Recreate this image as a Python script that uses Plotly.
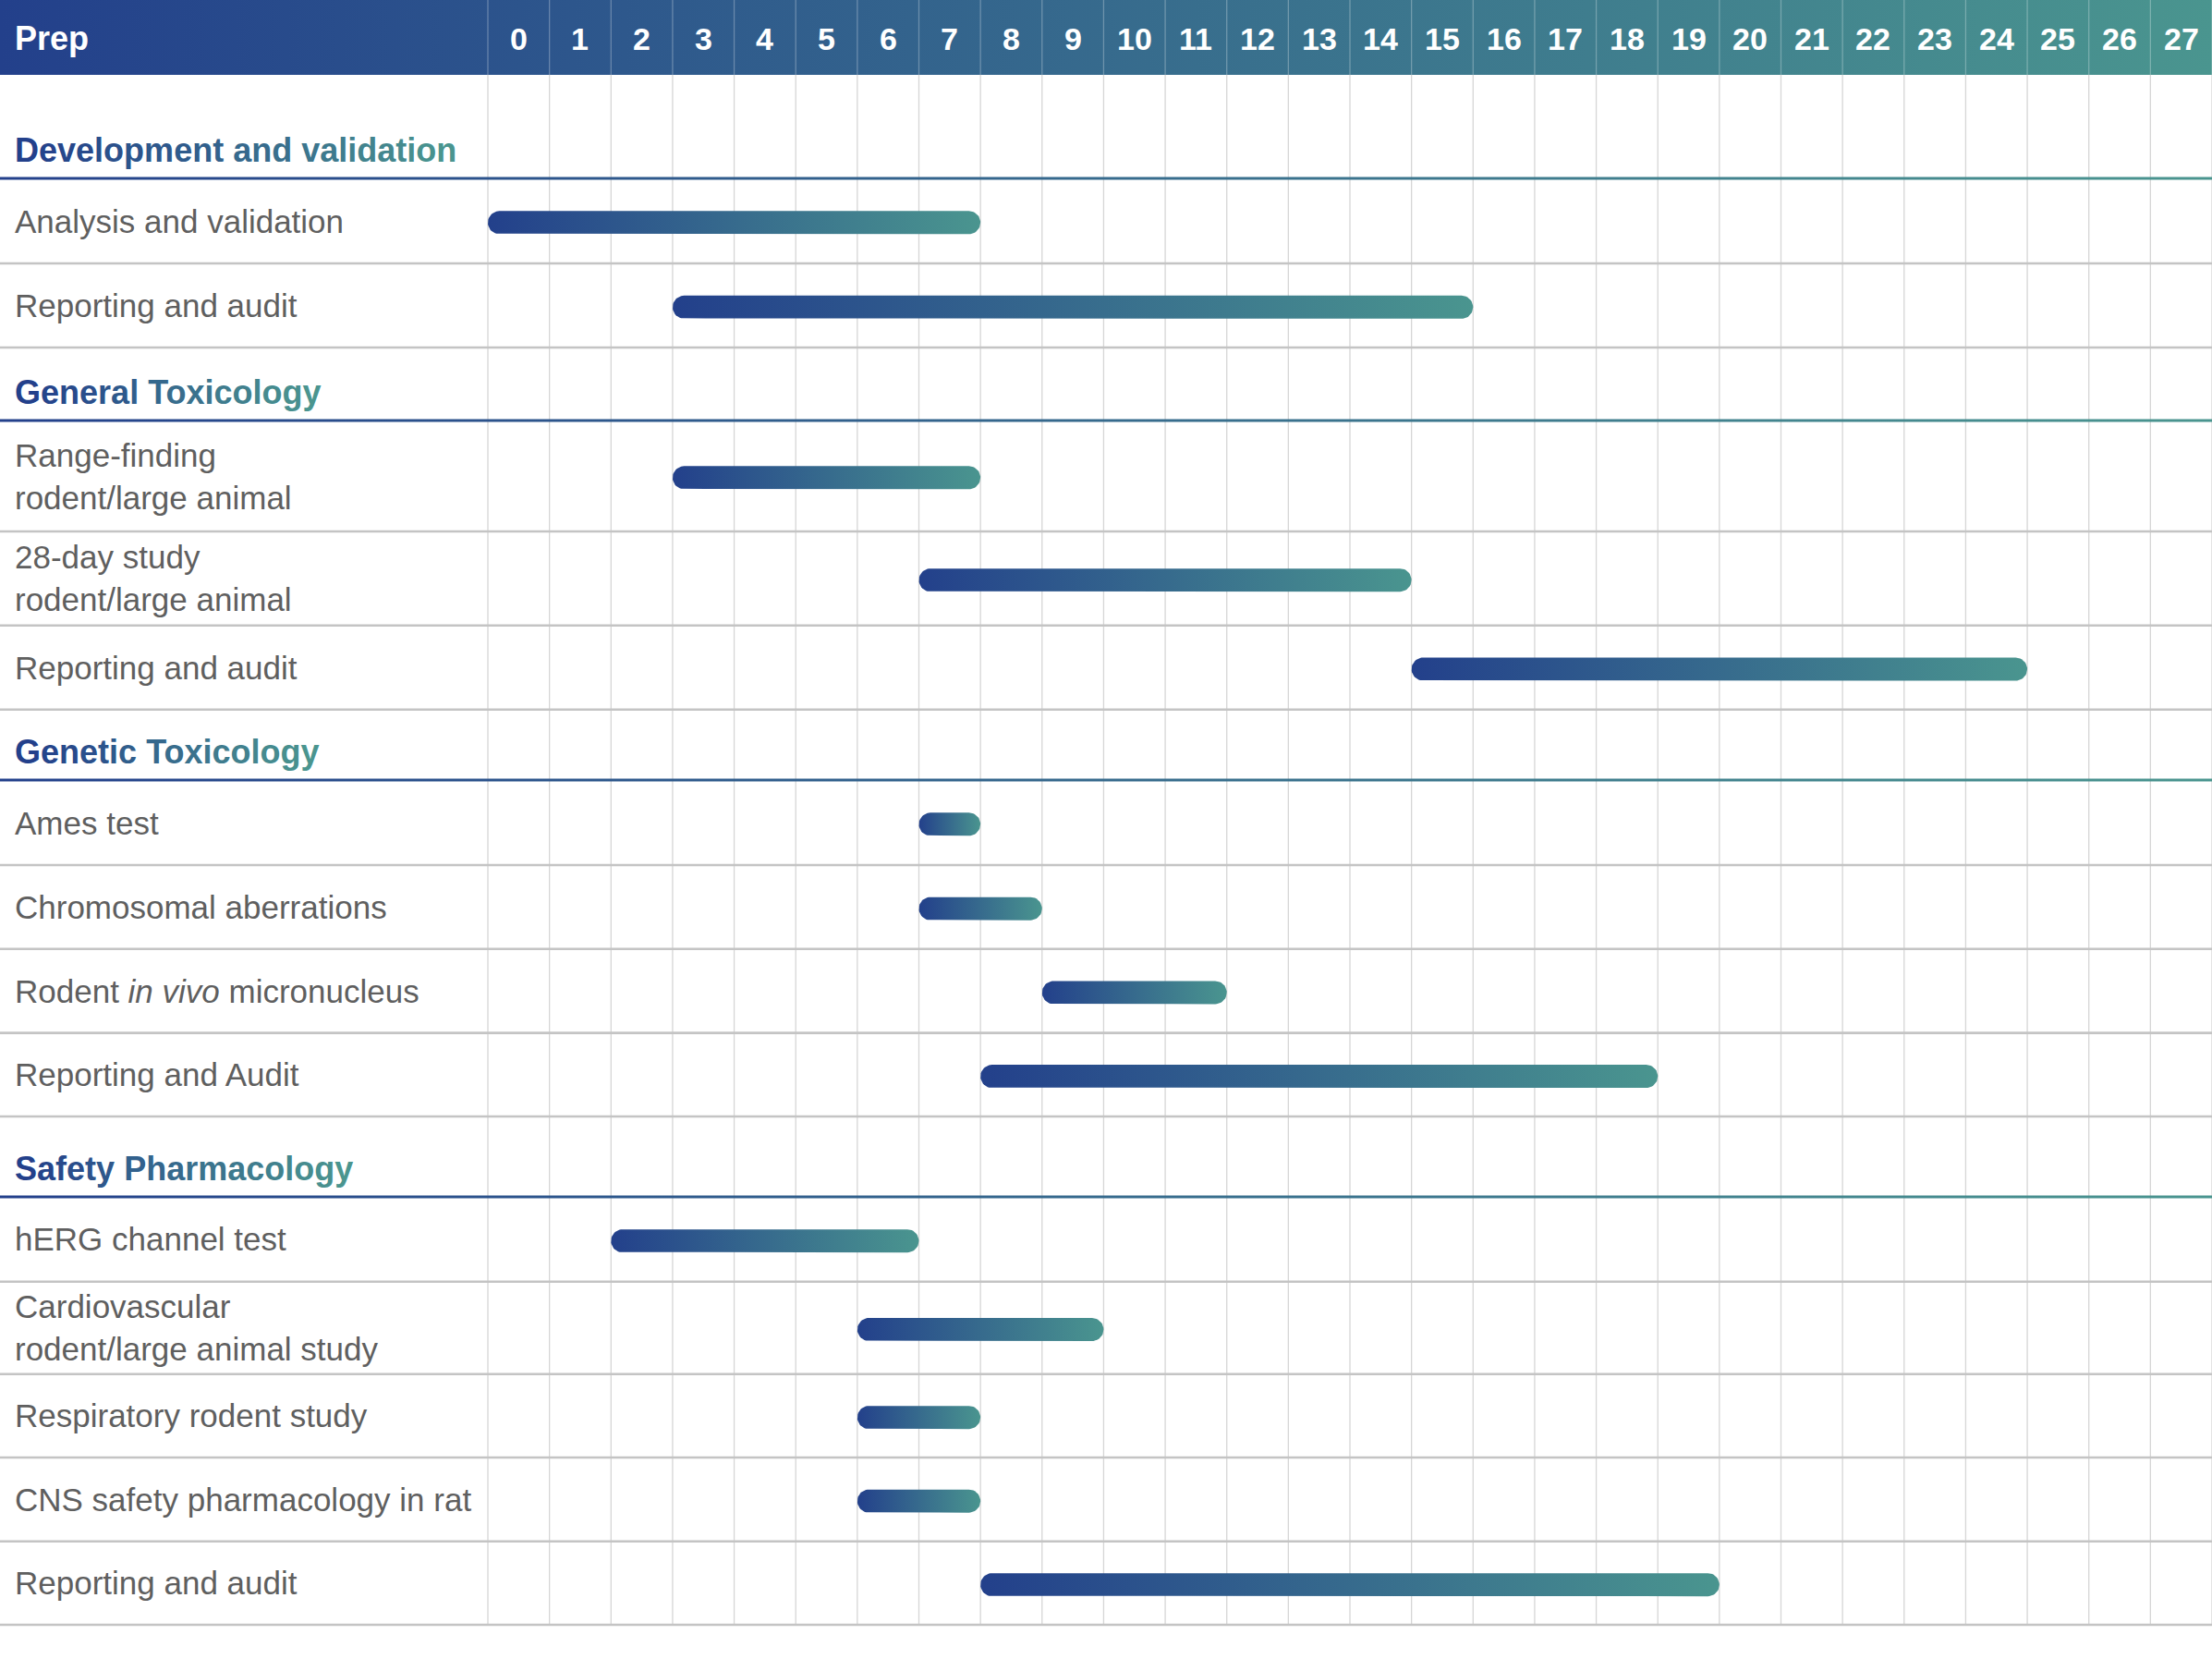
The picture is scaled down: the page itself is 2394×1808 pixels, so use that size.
import numpy as np
import plotly.graph_objects as go

# ---------------- data ----------------
corner_label = "Prep"
time_labels = [str(i) for i in range(28)]

sections = ["Development and validation", "General Toxicology",
            "Genetic Toxicology", "Safety Pharmacology"]

task_labels = [
    "Analysis and validation",
    "Reporting and audit",
    "Range-finding<br>rodent/large animal",
    "28-day study<br>rodent/large animal",
    "Reporting and audit",
    "Ames test",
    "Chromosomal aberrations",
    "Rodent <i>in vivo</i> micronucleus",
    "Reporting and Audit",
    "hERG channel test",
    "Cardiovascular<br>rodent/large animal study",
    "Respiratory rodent study",
    "CNS safety pharmacology in rat",
    "Reporting and audit",
]
task_section = [0, 0, 1, 1, 1, 2, 2, 2, 2, 3, 3, 3, 3, 3]
task_first = [0, 3, 3, 7, 15, 7, 7, 9, 8, 2, 6, 6, 6, 8]     # first time column
task_last = [7, 15, 7, 14, 24, 7, 8, 11, 18, 6, 9, 7, 7, 19]  # last time column (inclusive)

# ---------------- layout constants ----------------
W, H = 2394, 1808
HEADER_H = 81
GRID_X0 = 528
NCOL = len(time_labels)
COL_W = (W - GRID_X0) / NCOL
XMIN = -GRID_X0 / COL_W
# row boundaries (pixels from top); rows: section header then its tasks
ROW_BOUNDS = [81, 193, 285, 376, 455, 575, 676.7, 767.7, 844, 936, 1026.7,
              1117.6, 1208, 1295, 1386.7, 1486.7, 1577, 1667.7, 1758]
BAR_H = 25
C_BLUE = "#23408b"
C_TEAL = "#4a958f"
TEXT_C = "#5f5f5f"
FONT = "Liberation Sans, Arial, Helvetica, sans-serif"
GRAD = [[0, C_BLUE], [1, C_TEAL]]


def lerp_color(c1, c2, t):
    a = [int(c1[i:i + 2], 16) for i in (1, 3, 5)]
    b = [int(c2[i:i + 2], 16) for i in (1, 3, 5)]
    return "#%02x%02x%02x" % tuple(round(a[i] + (b[i] - a[i]) * t) for i in range(3))


# assign rows
rows = []  # (kind, index)
for s in range(len(sections)):
    rows.append(("S", s))
    for t in range(len(task_labels)):
        if task_section[t] == s:
            rows.append(("T", t))

fig = go.Figure()

# header band with gradient
fig.add_trace(go.Scatter(
    x=[XMIN, NCOL, NCOL, XMIN, XMIN], y=[0, 0, HEADER_H, HEADER_H, 0],
    mode="lines", line=dict(width=0), fill="toself",
    fillgradient=dict(type="horizontal", colorscale=GRAD),
    hoverinfo="skip"))

# vertical grid lines (body + header)
vx, vy, hx, hy = [], [], [], []
for k in range(NCOL + 1):
    vx += [k, k, None]
    vy += [HEADER_H, ROW_BOUNDS[-1], None]
    hx += [k, k, None]
    hy += [0, HEADER_H, None]
fig.add_trace(go.Scatter(x=vx, y=vy, mode="lines",
                         line=dict(color="#d6d6d6", width=1.3), hoverinfo="skip"))
fig.add_trace(go.Scatter(x=hx, y=hy, mode="lines",
                         line=dict(color="rgba(255,255,255,0.28)", width=1.3), hoverinfo="skip"))

# row separator lines (grey) and section lines (gradient)
gx, gy = [], []
for i, (kind, idx) in enumerate(rows):
    yb = ROW_BOUNDS[i + 1]
    if kind == "T":
        gx += [XMIN, NCOL, None]
        gy += [yb, yb, None]
fig.add_trace(go.Scatter(x=gx, y=gy, mode="lines",
                         line=dict(color="#c4c4c4", width=2.6), hoverinfo="skip"))

for i, (kind, idx) in enumerate(rows):
    if kind == "S":
        yb = ROW_BOUNDS[i + 1]
        fig.add_trace(go.Scatter(
            x=[XMIN, NCOL, NCOL, XMIN, XMIN],
            y=[yb - 1.5, yb - 1.5, yb + 1.5, yb + 1.5, yb - 1.5],
            mode="lines", line=dict(width=0), fill="toself",
            fillgradient=dict(type="horizontal", colorscale=GRAD),
            hoverinfo="skip"))

# bars (rounded pills with horizontal gradient)
r = BAR_H / 2
rx = r / COL_W
a_r = np.linspace(-np.pi / 2, np.pi / 2, 25)
a_l = np.linspace(np.pi / 2, 3 * np.pi / 2, 25)
for i, (kind, idx) in enumerate(rows):
    if kind != "T":
        continue
    yc = (ROW_BOUNDS[i] + ROW_BOUNDS[i + 1]) / 2 + 1.8
    x0 = task_first[idx]
    x1 = task_last[idx] + 1
    xs = np.concatenate([x1 - rx + rx * np.cos(a_r), x0 + rx + rx * np.cos(a_l)])
    ys = np.concatenate([yc + r * np.sin(a_r), yc + r * np.sin(a_l)])
    xs = np.append(xs, xs[0])
    ys = np.append(ys, ys[0])
    fig.add_trace(go.Scatter(
        x=xs, y=ys, mode="lines", line=dict(width=0), fill="toself",
        fillgradient=dict(type="horizontal", colorscale=GRAD),
        hoverinfo="skip"))

annotations = []
# header labels
annotations.append(dict(x=14 / W, xref="paper", y=HEADER_H / 2 + 1, yref="y",
                        text=corner_label, showarrow=False, xanchor="left", yanchor="middle",
                        font=dict(family=FONT, size=36, color="white", weight="bold")))
for k, lab in enumerate(time_labels):
    annotations.append(dict(x=k + 0.5, xref="x", y=HEADER_H / 2 + 1, yref="y",
                            text=lab, showarrow=False, xanchor="center", yanchor="middle",
                            font=dict(family=FONT, size=34, color="white", weight="bold")))

# row labels
for i, (kind, idx) in enumerate(rows):
    if kind == "T":
        yc = (ROW_BOUNDS[i] + ROW_BOUNDS[i + 1]) / 2
        annotations.append(dict(x=14 / W, xref="paper", y=yc, yref="y",
                                text=task_labels[idx], showarrow=False,
                                xanchor="left", yanchor="middle", align="left",
                                font=dict(family=FONT, size=35, color=TEXT_C)))
    else:
        name = sections[idx]
        n = len(name)
        txt = "".join('<span style="color:%s">%s</span>' % (lerp_color(C_BLUE, C_TEAL, j / max(n - 1, 1)), ch)
                      for j, ch in enumerate(name))
        annotations.append(dict(x=14 / W, xref="paper", y=ROW_BOUNDS[i + 1] - 31, yref="y",
                                text=txt, showarrow=False, xanchor="left", yanchor="middle",
                                font=dict(family=FONT, size=36, color=C_BLUE, weight="bold")))

fig.update_layout(
    width=W, height=H,
    margin=dict(l=0, r=0, t=0, b=0, pad=0),
    paper_bgcolor="white", plot_bgcolor="white",
    showlegend=False, hovermode=False,
    xaxis=dict(range=[XMIN, NCOL], visible=False, fixedrange=True),
    yaxis=dict(range=[H, 0], visible=False, fixedrange=True),
    annotations=annotations,
)

fig.write_html("out.html", config={"displayModeBar": False},
               post_script="document.body.style.margin='0';document.body.style.overflow='hidden';")
